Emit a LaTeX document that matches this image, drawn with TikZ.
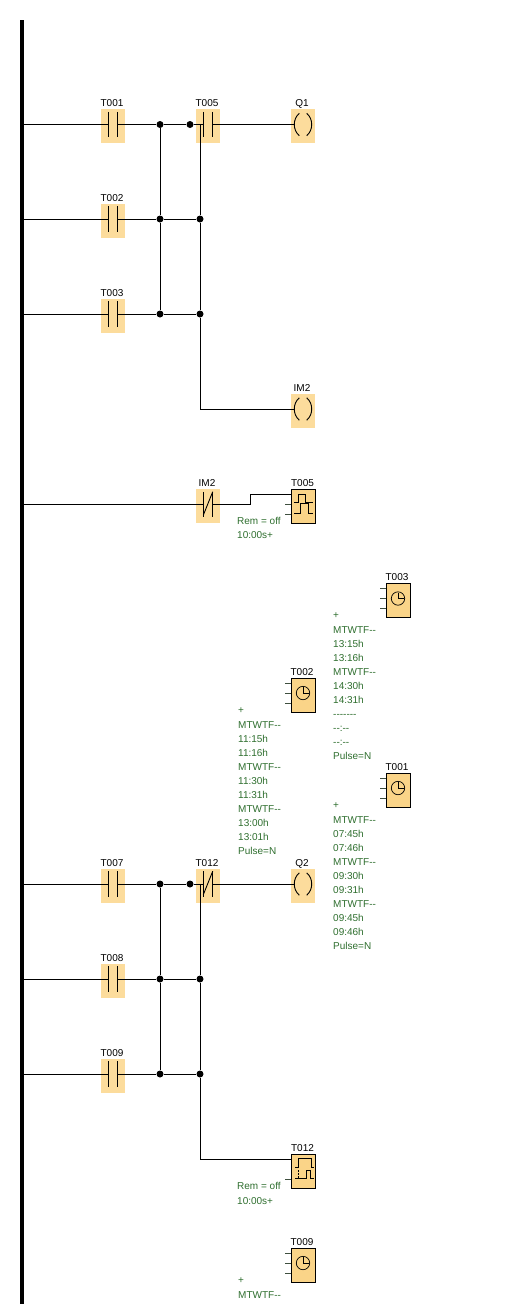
\documentclass[tikz,border=0pt]{standalone}
\usepackage{fontspec}
\setmainfont{Liberation Sans}
\usetikzlibrary{positioning}
\definecolor{Block}{HTML}{FCDC9C}
\definecolor{Box}{HTML}{FAD488}
\definecolor{Param}{HTML}{2E6E2E}
\definecolor{Stub}{HTML}{3F4F3F}
\tikzset{
  wire/.style={draw=black,line width=1pt},
  thin wire/.style={draw=black,line width=0.9pt},
  stub/.style={draw=Stub,line width=0.8pt},
  block/.style={fill=Block,minimum width=24pt,minimum height=34pt,inner sep=0pt},
  box/.style={fill=Box,draw=black,line width=0.8pt,minimum width=24pt,minimum height=34pt,inner sep=0pt},
  bars/.style={minimum width=9pt,minimum height=25pt,inner sep=0pt},
  coil/.style={minimum width=17pt,minimum height=22pt,inner sep=0pt},
  tag/.style={font=\fontsize{10}{12}\selectfont,inner sep=0pt,xshift=-1pt,text height=7.2pt,text depth=0pt},
  param/.style={font=\fontsize{10}{14.05}\selectfont,text=Param,align=left,anchor=north west,inner sep=0pt},
  dot/.style={circle,fill=black,minimum size=7pt,inner sep=0pt}
}
\begin{document}
\begin{tikzpicture}[x=1pt,y=-1pt]
  \useasboundingbox (0,0) rectangle (508,1304);
  \coordinate (bus) at (22,20);
  \draw[line width=4pt] (bus) -- (22,1304);
  % normally open contacts
  \foreach \id/\lab/\x/\y in {
    T001/T001/113/124.5, T002/T002/113/219, T003/T003/113/314, T005/T005/208/124.5,
    T007/T007/113/884, T008/T008/113/979, T009/T009/113/1074} {
    \node[block] (b\id) at (\x,\y+1.5) {};
    \node[tag,above=2pt of b\id] (l\id) {\lab};
    \node[bars] (c\id) at (\x,\y) {};
    \draw[thin wire] (c\id.north west) -- (c\id.south west);
    \draw[thin wire] (c\id.north east) -- (c\id.south east);
  }
  % normally closed contacts
  \foreach \id/\lab/\x/\y in {IM2/IM2/208/504.5, T012/T012/208/884} {
    \node[block] (b\id) at (\x,\y+1.5) {};
    \node[tag,above=2pt of b\id] (l\id) {\lab};
    \node[bars] (c\id) at (\x,\y) {};
    \draw[thin wire] (c\id.north west) -- (c\id.south west);
    \draw[thin wire] (c\id.north east) -- (c\id.south east);
    \draw[thin wire] ([yshift=2pt]c\id.south west) -- (c\id.north east);
  }
  % coils
  \foreach \id/\lab/\x/\y in {Q1/Q1/303/124.5, CIM2/IM2/303/409, Q2/Q2/303/884} {
    \node[block] (b\id) at (\x,\y+1.5) {};
    \node[tag,above=2pt of b\id] (l\id) {\lab};
    \node[coil] (c\id) at (\x,\y) {};
    \draw[thin wire] ([xshift=5pt]c\id.north west) to[bend right=50] ([xshift=5pt]c\id.south west);
    \draw[thin wire] ([xshift=-5pt]c\id.north east) to[bend left=50] ([xshift=-5pt]c\id.south east);
  }
  % clock blocks
  \foreach \id/\lab/\x/\y in {BT003/T003/398/600.5, BT002/T002/303/695, BT001/T001/398/790, BT009/T009/303/1265} {
    \node[box] (t\id) at (\x,\y) {};
    \node[tag,above=2pt of t\id] (l\id) {\lab};
    \foreach \s in {12,2,-8} {
      \draw[stub] ([yshift=\s pt]t\id.west) -- ++(-6,0);
    }
    \draw[line width=0.7pt] ([yshift=2pt]t\id.center) circle (6.7pt);
    \draw[line width=0.7pt] ([yshift=8pt]t\id.center) -- ([yshift=2pt]t\id.center) -- ([xshift=6pt,yshift=2pt]t\id.center);
  }
  % timers
  \node[box] (tT005) at (303.5,506) {};
  \node[tag,above=2pt of tT005] (lT005t) {T005};
  \draw[stub] ([yshift=2pt]tT005.west) -- ++(-6,0);
  \draw[stub] ([yshift=-8pt]tT005.west) -- ++(-6,0);
  \draw[line width=0.7pt] (294,502) -- (298.5,502) -- (298.5,494) -- (305,494) -- (305,502) -- (313,502);
  \draw[line width=0.7pt] (294,513) -- (300,513) -- (300,503) -- (308,503) -- (308,513) -- (313,513);
  \node[box] (tT012) at (303.5,1171.5) {};
  \node[tag,above=2pt of tT012] (lT012t) {T012};
  \draw[stub] ([yshift=-8pt]tT012.west) -- ++(-6,0);
  \draw[line width=0.7pt] (295,1167) -- (298,1167) -- (298,1158) -- (311,1158) -- (311,1167) -- (314,1167);
  \draw[line width=0.7pt] (295,1178) -- (306.5,1178) -- (306.5,1170) -- (310,1170) -- (310,1178) -- (314,1178);
  \draw[line width=0.6pt,dash pattern=on 1.5pt off 1.5pt] (298,1170) -- (298,1178);
  % upper network
  \node[dot] (j1) at (160,124.5) {};
  \node[dot] (j2) at (190,124.5) {};
  \node[dot] (j3) at (160,219) {};
  \node[dot] (j4) at (200,219) {};
  \node[dot] (j5) at (160,314) {};
  \node[dot] (j6) at (200,314) {};
  \coordinate (tee1) at (200,124.5);
  \draw[wire] (bus|-cT001.west) -- (cT001.west);
  \draw[wire] (cT001.east) -- (j1) -- (j2) -- (cT005.west);
  \draw[wire] (cT005.east) -- (cQ1.west);
  \draw[wire] (bus|-cT002.west) -- (cT002.west);
  \draw[wire] (cT002.east) -- (j3) -- (j4);
  \draw[wire] (bus|-cT003.west) -- (cT003.west);
  \draw[wire] (cT003.east) -- (j5) -- (j6);
  \draw[wire] (j1) -- (j3) -- (j5);
  \draw[wire] (tee1) -- (j4) -- (j6) |- (cCIM2.west);
  % timer rung
  \coordinate (kink) at (250,494);
  \draw[wire] (bus|-cIM2.west) -- (cIM2.west);
  \draw[wire] (cIM2.east) -| (kink) -- ([yshift=12pt]tT005.west);
  % lower network
  \node[dot] (j7) at (160,884) {};
  \node[dot] (j8) at (190,884) {};
  \node[dot] (j9) at (160,979) {};
  \node[dot] (j10) at (200,979) {};
  \node[dot] (j11) at (160,1074) {};
  \node[dot] (j12) at (200,1074) {};
  \coordinate (tee2) at (200,884);
  \draw[wire] (bus|-cT007.west) -- (cT007.west);
  \draw[wire] (cT007.east) -- (j7) -- (j8) -- (cT012.west);
  \draw[wire] (cT012.east) -- (cQ2.west);
  \draw[wire] (bus|-cT008.west) -- (cT008.west);
  \draw[wire] (cT008.east) -- (j9) -- (j10);
  \draw[wire] (bus|-cT009.west) -- (cT009.west);
  \draw[wire] (cT009.east) -- (j11) -- (j12);
  \draw[wire] (j7) -- (j9) -- (j11);
  \draw[wire] (tee2) -- (j10) -- (j12) |- ([yshift=12.5pt]tT012.west);
  % parameters
  \node[param] (pT005) at (237,517) {Rem = off\\10:00s+};
  \node[param] (pT012) at (237,1182.5) {Rem = off\\10:00s+};
  \node[param] (pT003) at (333,613) {+\\MTWTF-{}-\\13:15h\\13:16h\\MTWTF-{}-\\14:30h\\14:31h\\-{}-{}-{}-{}-{}-{}-\\-{}-:-{}-\\-{}-:-{}-\\Pulse=N};
  \node[param] (pT002) at (238,708) {+\\MTWTF-{}-\\11:15h\\11:16h\\MTWTF-{}-\\11:30h\\11:31h\\MTWTF-{}-\\13:00h\\13:01h\\Pulse=N};
  \node[param] (pT001) at (333,803) {+\\MTWTF-{}-\\07:45h\\07:46h\\MTWTF-{}-\\09:30h\\09:31h\\MTWTF-{}-\\09:45h\\09:46h\\Pulse=N};
  \node[param] (pT009) at (238,1278) {+\\MTWTF-{}-};
\end{tikzpicture}
\end{document}
